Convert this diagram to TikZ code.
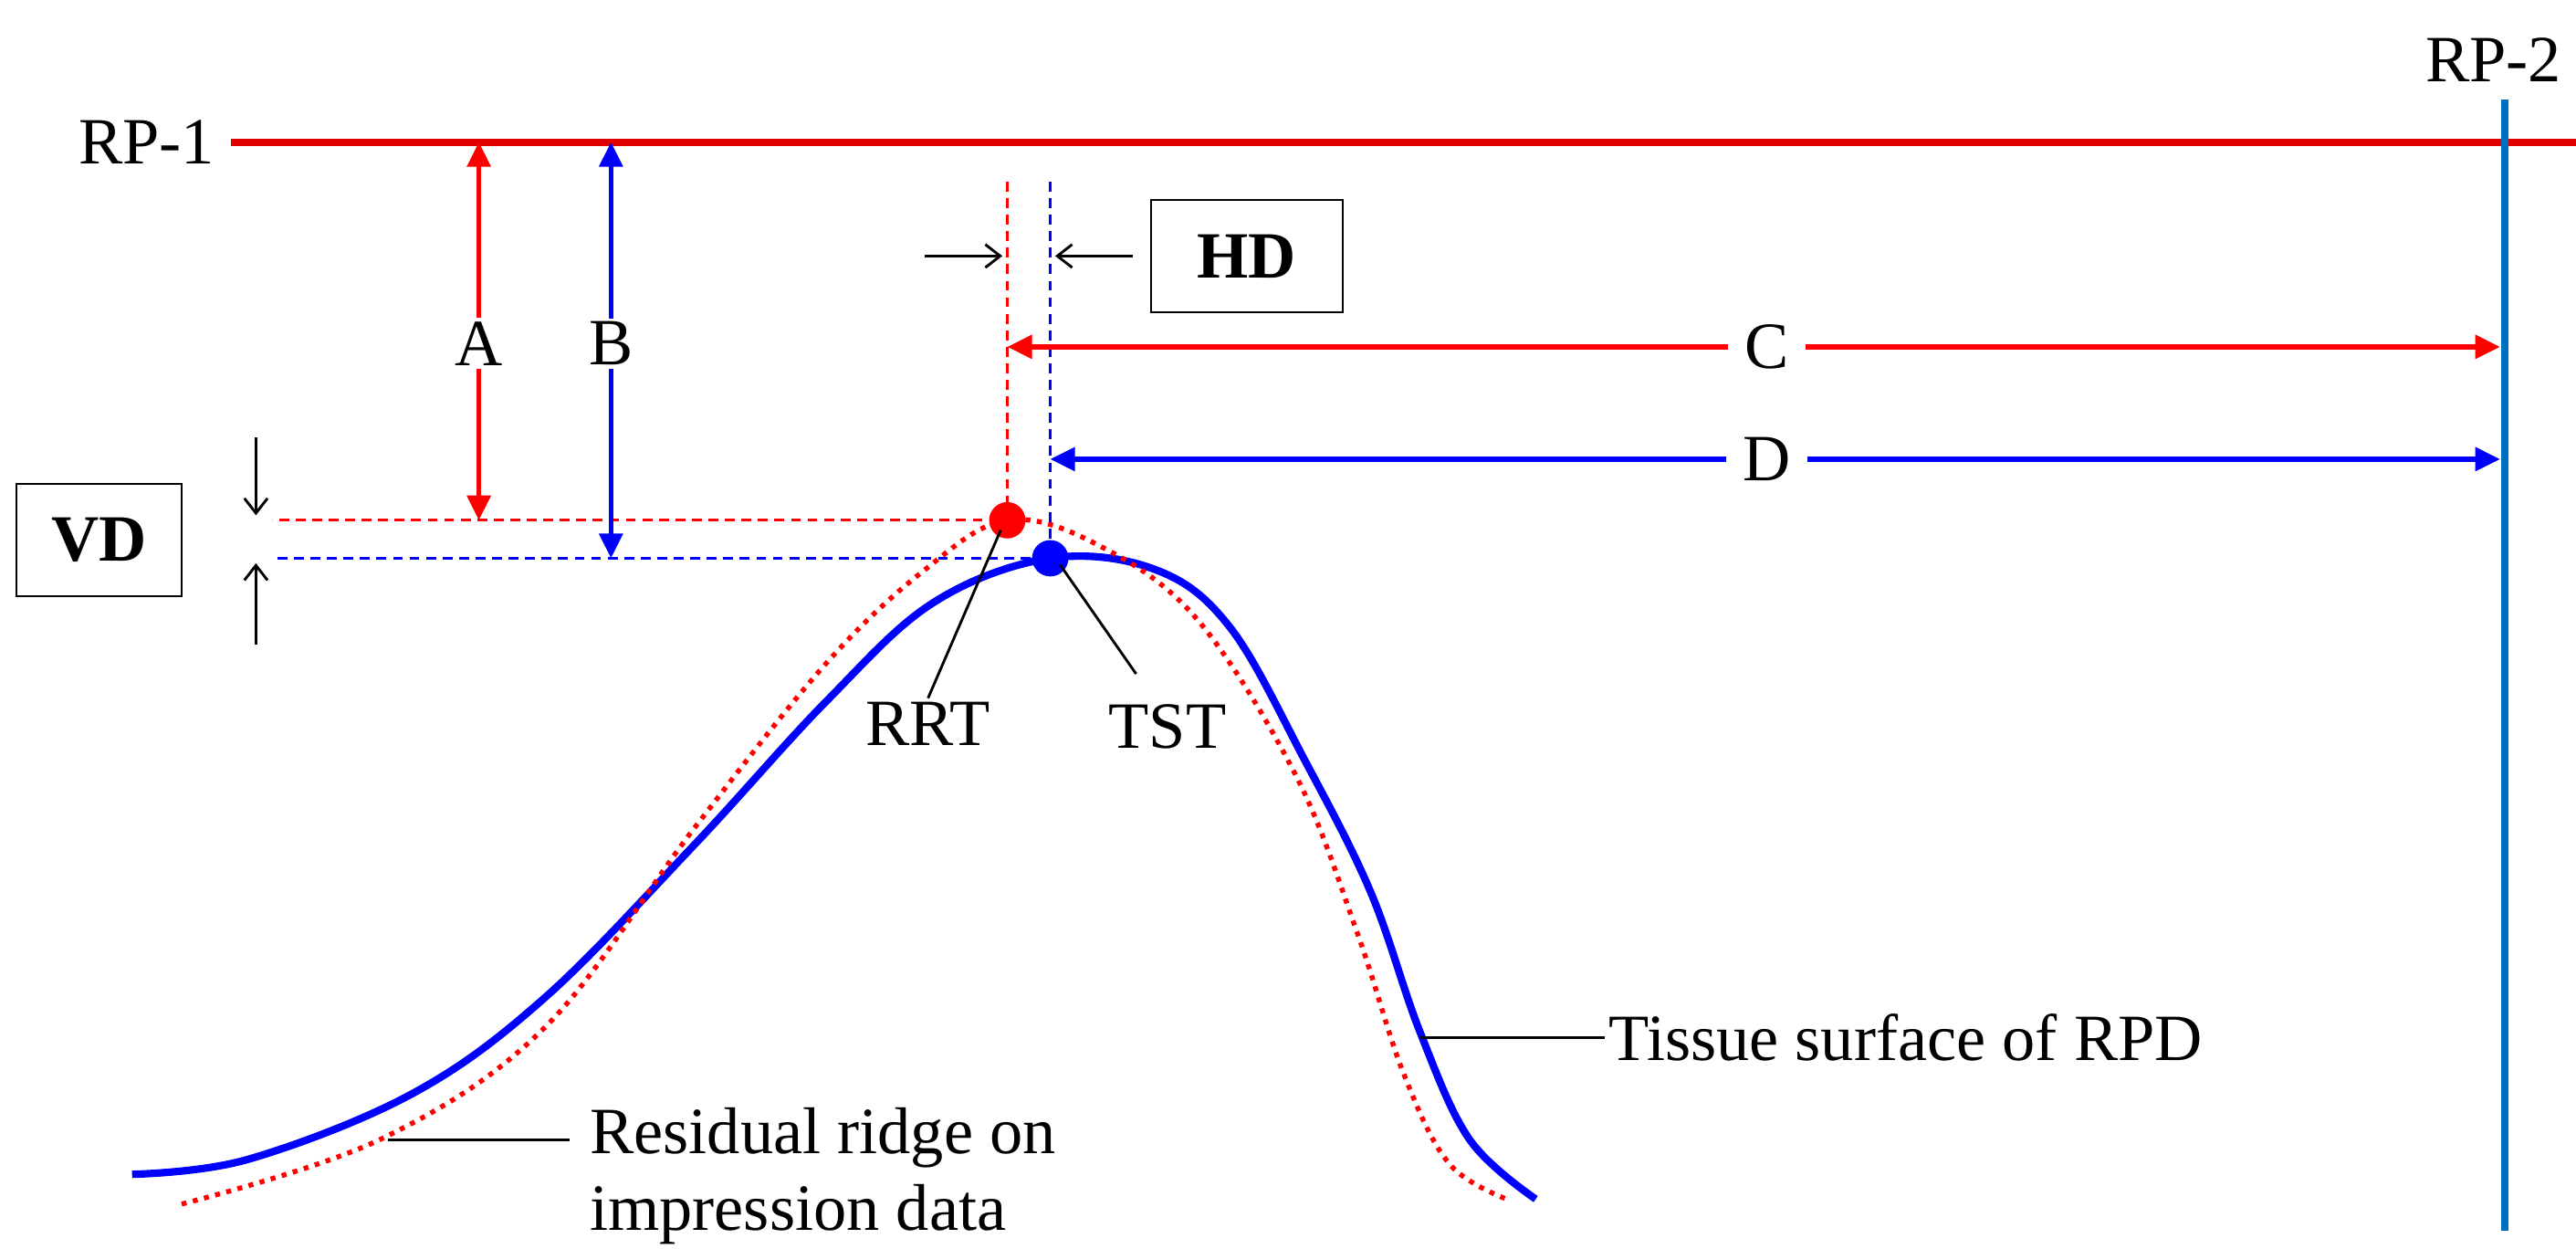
\documentclass[tikz,border=0pt]{standalone}
\usepackage{fontspec}
\setmainfont{Liberation Serif}
\usetikzlibrary{arrows.meta}
\definecolor{rp1}{HTML}{E00000}
\definecolor{rp2}{HTML}{0070C0}
\begin{document}
\begin{tikzpicture}[x=1pt,y=-1pt,
  lbl/.style={font=\fontsize{40}{47}\selectfont, inner sep=2pt},
  half/.style={line width=3pt,-{Triangle[length=15pt,width=14pt]}},
  blk/.style={line width=1.6pt,-{Straight Barb[length=9pt,width=14pt]}},
  dsh/.style={line width=1.6pt,dash pattern=on 6pt off 4pt},
  box/.style={draw,line width=1.3pt,font=\fontsize{40}{47}\selectfont\bfseries,minimum width=116pt,minimum height=68pt}]
\useasboundingbox (0,0) rectangle (1560,756);
% reference lines
\coordinate (r1a) at (140,86); \coordinate (r1b) at (1560,86);
\draw[rp1,line width=4.5pt] (r1a) -- (r1b);
\node[lbl,anchor=east] (rp1l) at (132,86) {RP-1};
\coordinate (r2a) at (1517,60); \coordinate (r2b) at (1517,745);
\draw[rp2,line width=4.5pt] (r2a) -- (r2b);
\node[lbl] (rp2l) at (1510,36) {RP-2};
% curves
\draw[blue,line width=4.5pt] plot[smooth,tension=0.6] coordinates {(80,711) (150,702) (250,662) (330,604) (420,512) (500,425) (565,365) (636,338) (700,345) (745,380) (790,460) (830,540) (860,625) (890,690) (930,726)};
\draw[red,line width=3pt,dash pattern=on 3pt off 4pt] plot[smooth,tension=0.6] coordinates {(110,729) (230,690) (330,622) (420,502) (500,402) (560,345) (610,315) (665,330) (725,375) (785,470) (822,565) (850,650) (878,705) (915,727)};
% dashed guides
\coordinate (rv) at (610,110); \coordinate (bv) at (636,110);
\node[circle,fill=red,inner sep=0,minimum size=22pt] (rrt) at (610,315) {};
\node[circle,fill=blue,inner sep=0,minimum size=22pt] (tst) at (636,338) {};
\coordinate (rh) at (165,315); \coordinate (bh) at (165,338);
\draw[red,dsh] (rv) -- (rrt.center) -- (rh);
\draw[blue,dsh] (bv) -- (tst.center) -- (bh);
% A, B
\coordinate (a1) at (290,315); \coordinate (a2) at (290,86);
\node[lbl] (A) at (290,208) {A};
\draw[red,half] (A.north) -- (a2);
\draw[red,half] (A.south) -- (a1);
\coordinate (b1) at (370,338); \coordinate (b2) at (370,86);
\node[lbl] (B) at (370,208) {B};
\draw[blue,half] (B.north) -- (b2);
\draw[blue,half] (B.south) -- (b1);
% C, D
\coordinate (c1) at (610,210); \coordinate (c2) at (1514,210);
\node[lbl,fill=white,inner xsep=10pt] (C) at (1070,210) {C};
\draw[red,half] (C.west) -- (c1);
\draw[red,half] (C.east) -- (c2);
\coordinate (d1) at (636,278); \coordinate (d2) at (1514,278);
\node[lbl,fill=white,inner xsep=10pt] (D) at (1070,278) {D};
\draw[blue,half] (D.west) -- (d1);
\draw[blue,half] (D.east) -- (d2);
% HD
\coordinate (h1) at (560,155); \coordinate (h1e) at (607,155);
\coordinate (h2) at (686,155); \coordinate (h2e) at (639,155);
\draw[blk] (h1) -- (h1e);
\draw[blk] (h2) -- (h2e);
\node[box] (HD) at (755,155) {HD};
% VD
\coordinate (v1) at (155,265); \coordinate (v1e) at (155,312);
\coordinate (v2) at (155,390); \coordinate (v2e) at (155,341);
\draw[blk] (v1) -- (v1e);
\draw[blk] (v2) -- (v2e);
\node[box,minimum width=100pt] (VD) at (60,327) {VD};
% labels with pointers
\node[lbl] (RRTl) at (562,438) {RRT};
\node[lbl] (TSTl) at (707,440) {TST};
\draw[line width=1.6pt] (rrt.center) ++(-4,6) coordinate (rp) -- (RRTl.north);
\coordinate (tp) at (642,342);
\draw[line width=1.6pt] (tp) -- (688,408);
\coordinate (ts1) at (860,628);
\node[lbl,anchor=west] (tsl) at (972,628) {Tissue surface of RPD};
\draw[line width=1.6pt] (ts1) -- (tsl.west);
\coordinate (rr1) at (235,690);
\node[lbl,anchor=west,align=left,font=\fontsize{40}{46}\selectfont] (rrl) at (355,712) {Residual ridge on\\impression data};
\draw[line width=1.6pt] (rr1) -- (345,690);
\end{tikzpicture}
\end{document}
